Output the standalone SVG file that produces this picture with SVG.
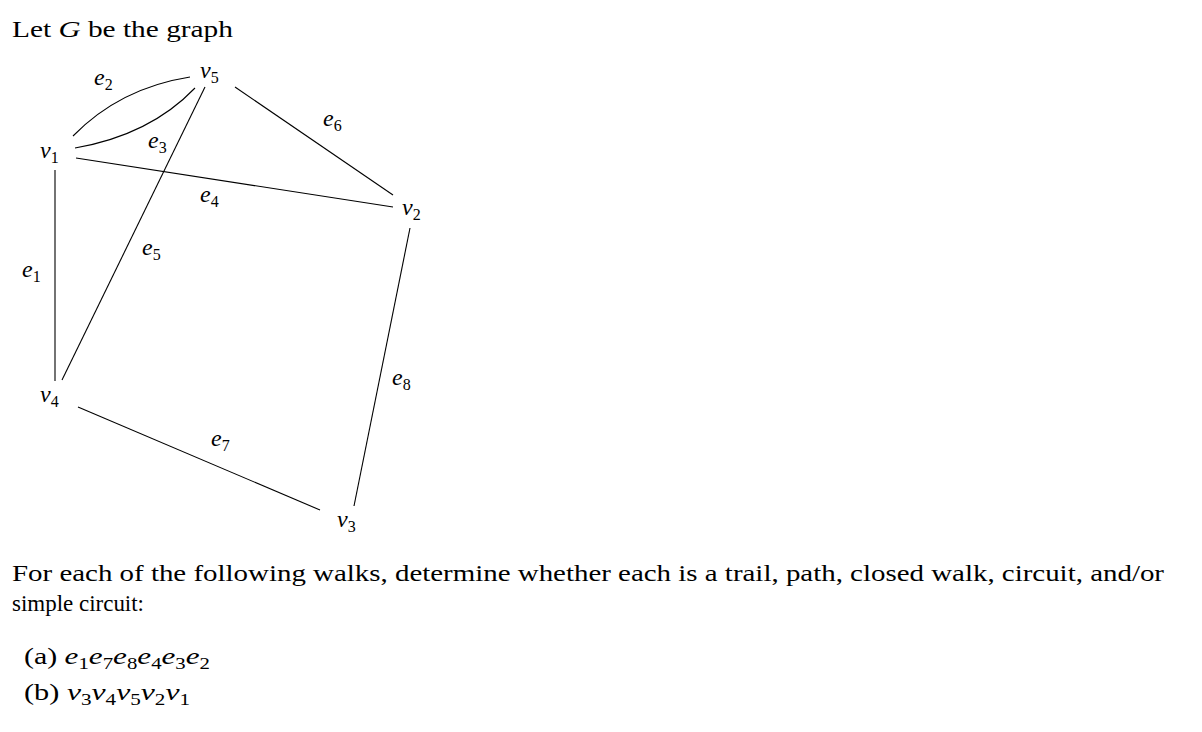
<svg xmlns="http://www.w3.org/2000/svg" width="1202" height="732" viewBox="0 0 1202 732">
<style>
text{font-family:"Liberation Serif","DejaVu Serif",serif;font-size:23px;fill:#000}
.m{font-style:italic;font-size:24px}
.s{font-size:16px;font-style:normal}
#edges path,#edges line{stroke:#000;stroke-width:1.1;fill:none}
</style>
<rect width="1202" height="732" fill="#fff"/>
<text x="12" y="37" textLength="221" lengthAdjust="spacingAndGlyphs">Let <tspan class="m">G</tspan> be the graph</text>
<g id="edges">
<path d="M73,136 Q120,88 190,77"/>
<path d="M75,148 Q150,135 195,88"/>
<line x1="205" y1="87" x2="62" y2="380"/>
<line x1="76" y1="158" x2="393" y2="207"/>
<line x1="235" y1="87" x2="393" y2="195"/>
<line x1="55" y1="170" x2="55" y2="381"/>
<line x1="78" y1="407" x2="320" y2="510"/>
<line x1="410" y1="228" x2="354" y2="506"/>
</g>
<g id="v5"><text class="m" x="200" y="78">v<tspan class="s" dy="5">5</tspan></text></g>
<g id="v1"><text class="m" x="40" y="158">v<tspan class="s" dy="5">1</tspan></text></g>
<g id="v2"><text class="m" x="402" y="215">v<tspan class="s" dy="5">2</tspan></text></g>
<g id="v4"><text class="m" x="40" y="402">v<tspan class="s" dy="5">4</tspan></text></g>
<g id="v3"><text class="m" x="337" y="527">v<tspan class="s" dy="5">3</tspan></text></g>
<g id="labels">
<text class="m" x="94" y="85">e<tspan class="s" dy="5">2</tspan></text>
<text class="m" x="148" y="148">e<tspan class="s" dy="5">3</tspan></text>
<text class="m" x="200" y="202">e<tspan class="s" dy="5">4</tspan></text>
<text class="m" x="142" y="255">e<tspan class="s" dy="5">5</tspan></text>
<text class="m" x="323" y="126">e<tspan class="s" dy="5">6</tspan></text>
<text class="m" x="22" y="277">e<tspan class="s" dy="5">1</tspan></text>
<text class="m" x="392" y="385">e<tspan class="s" dy="5">8</tspan></text>
<text class="m" x="211" y="446">e<tspan class="s" dy="5">7</tspan></text>
</g>
<text x="12" y="581" textLength="1152" lengthAdjust="spacingAndGlyphs">For each of the following walks, determine whether each is a trail, path, closed walk, circuit, and/or</text>
<text x="12" y="611" textLength="132" lengthAdjust="spacingAndGlyphs">simple circuit:</text>
<text x="24" y="664" textLength="186" lengthAdjust="spacingAndGlyphs">(a)  <tspan class="m">e<tspan class="s" dy="5">1</tspan><tspan dy="-5">e</tspan><tspan class="s" dy="5">7</tspan><tspan dy="-5">e</tspan><tspan class="s" dy="5">8</tspan><tspan dy="-5">e</tspan><tspan class="s" dy="5">4</tspan><tspan dy="-5">e</tspan><tspan class="s" dy="5">3</tspan><tspan dy="-5">e</tspan><tspan class="s" dy="5">2</tspan></tspan></text>
<text x="24" y="700" textLength="166" lengthAdjust="spacingAndGlyphs">(b)  <tspan class="m">v<tspan class="s" dy="5">3</tspan><tspan dy="-5">v</tspan><tspan class="s" dy="5">4</tspan><tspan dy="-5">v</tspan><tspan class="s" dy="5">5</tspan><tspan dy="-5">v</tspan><tspan class="s" dy="5">2</tspan><tspan dy="-5">v</tspan><tspan class="s" dy="5">1</tspan></tspan></text>
</svg>
